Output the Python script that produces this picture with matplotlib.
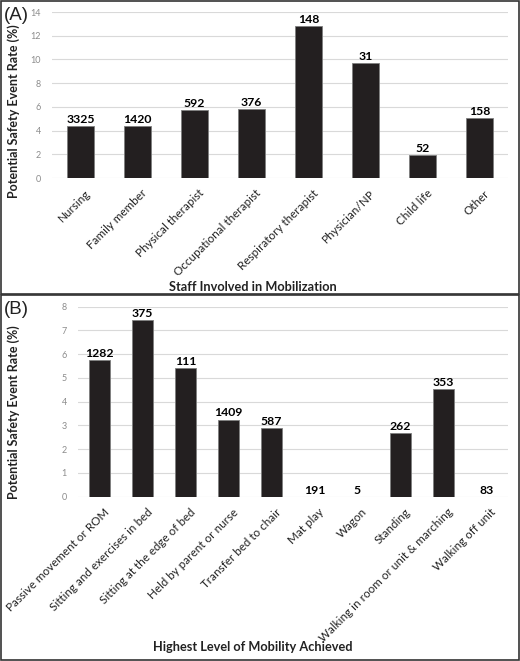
import matplotlib
matplotlib.use("Agg")
import matplotlib.pyplot as plt
from matplotlib.patches import Rectangle
from matplotlib.transforms import ScaledTranslation

plt.rcParams['font.family'] = ['Lato', 'DejaVu Sans']

# panel A data
staff = ['Nursing', 'Family member', 'Physical therapist', 'Occupational therapist',
         'Respiratory therapist', 'Physician/NP', 'Child life', 'Other']
staff_rate = [4.4, 4.4, 5.7, 5.8, 12.8, 9.7, 1.9, 5.05]
staff_n = [3325, 1420, 592, 376, 148, 31, 52, 158]

# panel B data
mobility = ['Passive movement or ROM', 'Sitting and exercises in bed', 'Sitting at the edge of bed',
            'Held by parent or nurse', 'Transfer bed to chair', 'Mat play', 'Wagon', 'Standing',
            'Walking in room or unit & marching', 'Walking off unit']
mobility_rate = [5.75, 7.45, 5.4, 3.25, 2.9, 0, 0, 2.67, 4.52, 0]
mobility_n = [1282, 375, 111, 1409, 587, 191, 5, 262, 353, 83]

W, H = 520, 661
fig = plt.figure(figsize=(W / 100, H / 100), dpi=100)


def fy(px):
    return 1 - px / H


def panel(ax, cats, rates, counts, ymax, step, xlabel, width):
    x = range(len(cats))
    ax.bar(x, rates, width=width, color='#231f20', edgecolor='#7f7f7f', linewidth=0.6, zorder=3)
    for xi, r, n in zip(x, rates, counts):
        ax.text(xi, r + ymax * 0.006, str(n), ha='center', va='bottom',
                fontsize=8.8, fontweight='bold', color='black', zorder=4)
    ax.set_ylim(0, ymax)
    ax.set_xlim(-0.5, len(cats) - 0.5)
    ax.set_yticks(range(0, ymax + 1, step))
    ax.grid(axis='y', color='#d9d9d9', linewidth=0.8, zorder=0)
    for s in ax.spines.values():
        s.set_visible(False)
    ax.tick_params(axis='y', length=0, labelsize=6.5, labelcolor='#8c8c8c', pad=8)
    ax.tick_params(axis='x', length=0, pad=7)
    ax.set_xticks(list(x))
    ax.set_xticklabels(cats, rotation=45, ha='right', rotation_mode='anchor',
                       fontsize=8.4, color='#222222')
    shift = ScaledTranslation(4 / 100, 0, fig.dpi_scale_trans)
    for lab in ax.get_xticklabels():
        lab.set_transform(lab.get_transform() + shift)
    ax.set_xlabel(xlabel, fontsize=9.2, fontweight='bold', color='#222222', va='center')


axA = fig.add_axes([52 / W, fy(178), (508 - 52) / W, (178 - 12) / H])
panel(axA, staff, staff_rate, staff_n, 14, 2, 'Staff Involved in Mobilization', 0.46)
axA.xaxis.set_label_coords((253 - 52) / 456, (178 - 287) / (178 - 12), transform=axA.transAxes)

axB = fig.add_axes([78 / W, fy(496.7), (508 - 78) / W, (496.7 - 306.7) / H])
panel(axB, mobility, mobility_rate, mobility_n, 8, 1, 'Highest Level of Mobility Achieved', 0.47)
axB.xaxis.set_label_coords((253 - 78) / 430, (496.7 - 647) / 190, transform=axB.transAxes)

fig.text(14 / W, fy(111), 'Potential Safety Event Rate (%)', rotation=90, ha='center', va='center',
         fontsize=9, fontweight='bold', color='#222222')
fig.text(14 / W, fy(412), 'Potential Safety Event Rate (%)', rotation=90, ha='center', va='center',
         fontsize=9, fontweight='bold', color='#222222')

fig.text(4 / W, fy(15), '(A)', ha='left', va='center', fontsize=13.5,
         family=['Liberation Sans', 'DejaVu Sans'], color='#222222')
fig.text(4 / W, fy(309), '(B)', ha='left', va='center', fontsize=13.5,
         family=['Liberation Sans', 'DejaVu Sans'], color='#222222')

# panel frames
fig.patches.append(Rectangle((1 / W, fy(294)), (W - 2) / W, 293 / H, transform=fig.transFigure,
                             fill=False, edgecolor='#333333', linewidth=1.2))
fig.patches.append(Rectangle((1 / W, fy(H - 1)), (W - 2) / W, (H - 296) / H, transform=fig.transFigure,
                             fill=False, edgecolor='#333333', linewidth=1.2))

fig.savefig('out.png', dpi=100)
